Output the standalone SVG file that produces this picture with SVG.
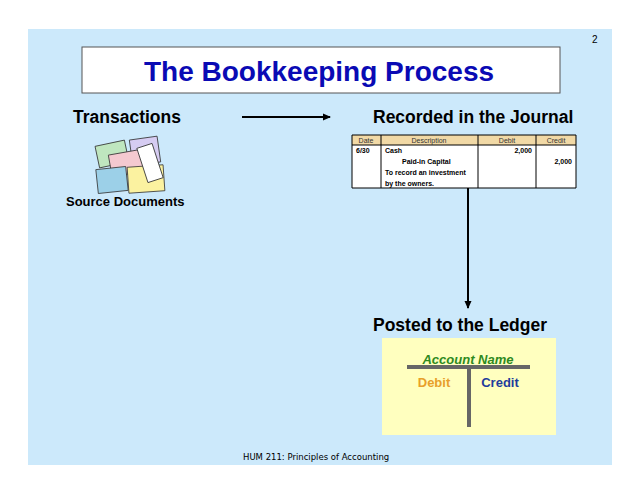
<svg xmlns="http://www.w3.org/2000/svg" width="638" height="493" viewBox="0 0 638 493">
<defs>
<style>
.h{font-family:"Liberation Sans",Arial,sans-serif;font-weight:bold;font-size:17.5px;fill:#000}
.t{font-family:"Liberation Sans",Arial,sans-serif;font-size:7px;fill:#000;font-weight:bold}
.th{font-family:"Liberation Sans",Arial,sans-serif;font-size:7px;fill:#333;text-anchor:middle}
.g{stroke:#000;stroke-width:1;fill:none}
</style>
<marker id="ar" markerWidth="8" markerHeight="8" refX="7" refY="4" orient="auto" markerUnits="userSpaceOnUse"><path d="M0,0.5 L8,4 L0,7.5z" fill="#000"/></marker>
</defs>
<rect width="638" height="493" fill="#fff"/>
<rect x="28" y="29" width="584" height="436" fill="#cce9fb"/>
<text x="592" y="43" font-family="Liberation Sans,sans-serif" font-size="10" fill="#000">2</text>
<g id="title">
<rect x="82" y="47" width="478" height="46" fill="#fff" stroke="#555" stroke-width="1"/>
<text x="319" y="71" dy="0.35em" text-anchor="middle" font-family="Liberation Sans,sans-serif" font-weight="bold" font-size="28" fill="#0a0ab4">The Bookkeeping Process</text>
</g>
<g id="transactions">
<text x="73" y="123" class="h">Transactions</text>
<g stroke="#333" stroke-width="0.8">
<rect x="97" y="143" width="30" height="22" fill="#bfe6bf" transform="rotate(-12 112 154)"/>
<rect x="131" y="138" width="28" height="26" fill="#d6ccf2" transform="rotate(-8 145 151)"/>
<rect x="110" y="152" width="34" height="22" fill="#f4c9d0" transform="rotate(-10 127 163)"/>
<rect x="97" y="168" width="30" height="24" fill="#9cd0e8" transform="rotate(-6 112 180)"/>
<rect x="128" y="166" width="36" height="26" fill="#fbf2a0" transform="rotate(-4 146 179)"/>
<rect x="142" y="145" width="16" height="36" fill="#fff" transform="rotate(-18 150 163)"/>
</g>
<text x="66" y="206" font-family="Liberation Sans,sans-serif" font-weight="bold" font-size="13" fill="#000">Source Documents</text>
</g>
<g id="journal">
<text x="373" y="123" class="h">Recorded in the Journal</text>
<rect x="352" y="135" width="224" height="53" fill="#fff"/>
<rect x="352" y="135" width="224" height="10" fill="#f1d9a6"/>
<path class="g" d="M352,135H576V188H352Z M352,145H576 M381,135V188 M478,135V188 M536,135V188"/>
<text x="366" y="143" class="th">Date</text>
<text x="429" y="143" class="th">Description</text>
<text x="507" y="143" class="th">Debit</text>
<text x="556" y="143" class="th">Credit</text>
<text x="356" y="153" class="t">6/30</text>
<text x="385" y="153" class="t">Cash</text>
<text x="532" y="153" class="t" text-anchor="end">2,000</text>
<text x="402" y="164" class="t">Paid-in Capital</text>
<text x="572" y="164" class="t" text-anchor="end">2,000</text>
<text x="385" y="175" class="t">To record an investment</text>
<text x="385" y="186" class="t">by the owners.</text>
</g>
<g id="ledger">
<text x="373" y="331" class="h">Posted to the Ledger</text>
<rect x="382" y="338" width="174" height="97" fill="#ffffbf"/>
<path d="M407,367H530 M469,367V427" stroke="#666" stroke-width="4" fill="none"/>
<text x="468" y="364" text-anchor="middle" font-family="Liberation Sans,sans-serif" font-weight="bold" font-style="italic" font-size="13" fill="#2e8a1e">Account Name</text>
<text x="434" y="387" text-anchor="middle" font-family="Liberation Sans,sans-serif" font-weight="bold" font-size="13" fill="#e8a02a">Debit</text>
<text x="500" y="387" text-anchor="middle" font-family="Liberation Sans,sans-serif" font-weight="bold" font-size="13" fill="#1e3c9c">Credit</text>
</g>
<g id="connectors" stroke="#000" stroke-width="2" fill="none">
<path d="M242,117H330" marker-end="url(#ar)"/>
<path d="M468,188V308" marker-end="url(#ar)"/>
</g>
<text x="243" y="460" font-family="DejaVu Sans,sans-serif" font-size="8.5" fill="#000">HUM 211: Principles of Accounting</text>
</svg>
